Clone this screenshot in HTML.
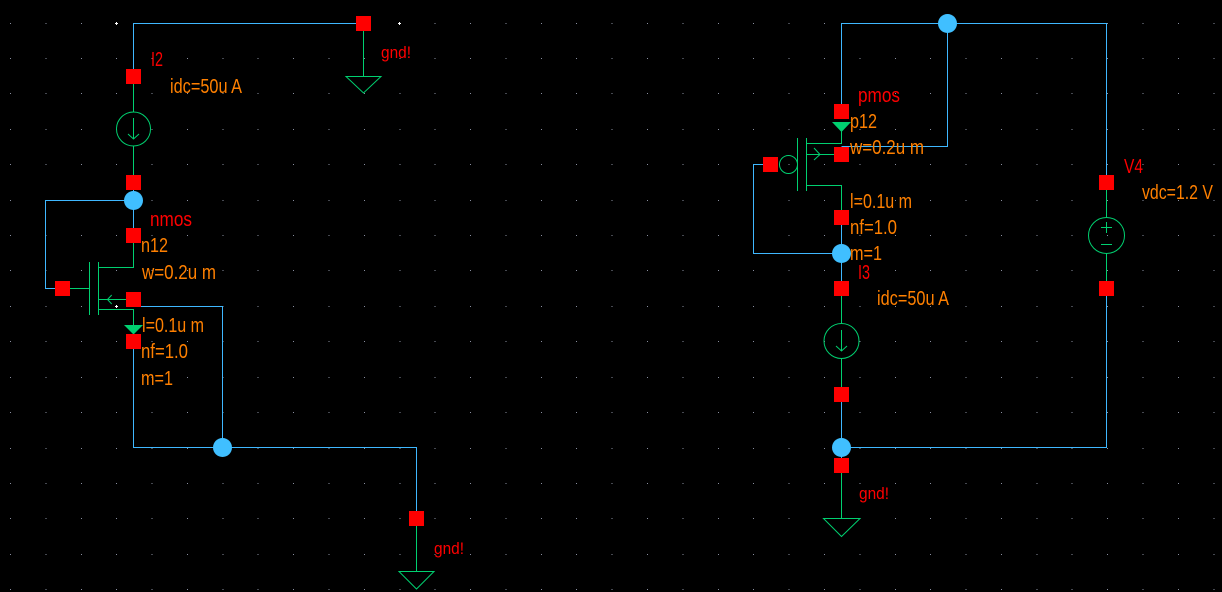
<!DOCTYPE html>
<html>
<head>
<meta charset="utf-8">
<title>Schematic</title>
<style>
html,body{margin:0;padding:0;background:#000;width:1222px;height:592px;overflow:hidden}
svg{display:block}
text{font-family:"Liberation Sans",sans-serif;font-size:20px;font-weight:400}
text.s{font-size:17px}
.r{fill:#f00}
.o{fill:#ff8000}
.w{fill:none;stroke:#3fb8ff;stroke-width:1;shape-rendering:crispEdges}
.g{fill:none;stroke:#00d070;stroke-width:1}
.gc{shape-rendering:crispEdges}
.grid{fill:none;stroke:#8a8fa0;stroke-width:1;stroke-dasharray:1 34.39;shape-rendering:crispEdges}
</style>
</head>
<body>
<svg width="1222" height="592" viewBox="0 0 1222 592" xmlns="http://www.w3.org/2000/svg">
<rect width="1222" height="592" fill="#000"/>
<!-- grid -->
<g class="grid">
<path d="M10 23.5H1222"/><path d="M10 58.5H1222"/><path d="M10 93.5H1222"/><path d="M10 129.5H1222"/>
<path d="M10 164.5H1222"/><path d="M10 200.5H1222"/><path d="M10 235.5H1222"/><path d="M10 270.5H1222"/>
<path d="M10 306.5H1222"/><path d="M10 341.5H1222"/><path d="M10 377.5H1222"/><path d="M10 412.5H1222"/>
<path d="M10 448.5H1222"/><path d="M10 483.5H1222"/><path d="M10 518.5H1222"/><path d="M10 554.5H1222"/>
<path d="M10 589.5H1222"/>
</g>
<!-- white origin marks -->
<path d="M115 23.5h3M116.5 22v3M398 23.5h3M399.5 22v3M115 306.5h3M116.5 305v3" stroke="#fff" fill="none" shape-rendering="crispEdges"/>

<!-- LEFT wires -->
<path class="w" d="M133.5 76V23.5H363"/>
<path class="w" d="M133.5 182V243"/>
<path class="w" d="M133.5 200.5H45.5V288.5H62"/>
<path class="w" d="M133.5 342V447.5H416.5V518"/>
<path class="w" d="M134 306.5H222.5V447.5"/>

<!-- LEFT green -->
<g class="g gc">
<path d="M133.5 84V112M133.5 146V175"/>
<path d="M363.5 31V76.5"/>
<path d="M133.5 243V267.5H98.5"/>
<path d="M70 288.5H89.5"/>
<path d="M89.5 262V315M98.5 262V315"/>
<path d="M98.5 299.5H126"/>
<path d="M98.5 309.5H133.5V325"/>
<path d="M416.5 526V571.5"/>
<path d="M133.5 118V139"/>
</g>
<g class="g">
<circle cx="133.5" cy="129" r="17"/>
<path d="M128 134L133.5 139L139 134"/>
<path d="M346 76.5H381L363.5 93Z"/>
<path d="M399 571.5H434L416.5 589Z"/>
<path d="M111.7 295L107.5 299.5L111.7 304"/>
</g>
<path d="M124 325H143L133.5 334.5Z" fill="#00d070"/>

<!-- RIGHT wires -->
<path class="w" d="M841.5 111V23.5H1106.5V182"/>
<path class="w" d="M947.5 23.5V146.5H841.5"/>
<path class="w" d="M841.5 217V288"/>
<path class="w" d="M841.5 253.5H753.5V164.5H770"/>
<path class="w" d="M841.5 394V465"/>
<path class="w" d="M841.5 447.5H1106.5V288"/>

<!-- RIGHT green -->
<g class="g gc">
<path d="M841.5 131V143.5H806.5"/>
<path d="M797.5 138V191M806.5 138V191"/>
<path d="M806.5 154.5H834"/>
<path d="M806.5 185.5H841.5V210"/>
<path d="M841.5 296V323M841.5 359V387"/>
<path d="M841.5 330V351"/>
<path d="M841.5 473V518.5"/>
<path d="M1106.5 190V217M1106.5 253V281"/>
<path d="M1101 227.5H1112M1106.5 222V233M1101 244.5H1112"/>
</g>
<g class="g">
<circle cx="788.5" cy="164.5" r="9"/>
<circle cx="841.5" cy="341" r="17.5"/>
<circle cx="1106.5" cy="235.5" r="18"/>
<path d="M836 346L841.5 351L847 346"/>
<path d="M814 148L820 154.5L814 160"/>
<path d="M823.5 518.5H860L841.5 536.5Z"/>
</g>
<path d="M832 122H851L841.5 132Z" fill="#00d070"/>

<!-- blue dots -->
<g fill="#40bfff">
<circle cx="133.5" cy="200.5" r="9.5"/>
<circle cx="222.5" cy="447.5" r="9.5"/>
<circle cx="947.5" cy="23.5" r="9.5"/>
<circle cx="841.5" cy="253.5" r="9.5"/>
<circle cx="841.5" cy="447.5" r="9.5"/>
</g>

<!-- red pins -->
<g fill="#f00">
<rect x="356" y="16" width="15" height="15"/>
<rect x="126" y="69" width="15" height="15"/>
<rect x="126" y="175" width="15" height="15"/>
<rect x="126" y="228" width="15" height="15"/>
<rect x="55" y="281" width="15" height="15"/>
<rect x="126" y="292" width="15" height="15"/>
<rect x="126" y="334" width="15" height="15"/>
<rect x="409" y="511" width="15" height="15"/>
<rect x="834" y="104" width="15" height="15"/>
<rect x="834" y="147" width="15" height="15"/>
<rect x="763" y="157" width="15" height="15"/>
<rect x="834" y="210" width="15" height="15"/>
<rect x="834" y="281" width="15" height="15"/>
<rect x="834" y="387" width="15" height="15"/>
<rect x="834" y="458" width="15" height="15"/>
<rect x="1099" y="175" width="15" height="15"/>
<rect x="1099" y="281" width="15" height="15"/>
</g>

<!-- labels -->
<text class="r" x="151" y="66" textLength="12" lengthAdjust="spacingAndGlyphs">I2</text>
<text class="o" x="170" y="93" textLength="72" lengthAdjust="spacingAndGlyphs">idc=50u A</text>
<text class="r s" x="381" y="58" textLength="30" lengthAdjust="spacingAndGlyphs">gnd!</text>
<text class="r" x="150" y="226" textLength="42" lengthAdjust="spacingAndGlyphs">nmos</text>
<text class="o" x="141" y="252" textLength="27" lengthAdjust="spacingAndGlyphs">n12</text>
<text class="o" x="142" y="279" textLength="74" lengthAdjust="spacingAndGlyphs">w=0.2u m</text>
<text class="o" x="142" y="332" textLength="62" lengthAdjust="spacingAndGlyphs">l=0.1u m</text>
<text class="o" x="141" y="358" textLength="47" lengthAdjust="spacingAndGlyphs">nf=1.0</text>
<text class="o" x="141" y="385" textLength="32" lengthAdjust="spacingAndGlyphs">m=1</text>
<text class="r s" x="434" y="554" textLength="30" lengthAdjust="spacingAndGlyphs">gnd!</text>

<text class="r" x="858" y="102" textLength="42" lengthAdjust="spacingAndGlyphs">pmos</text>
<text class="o" x="850" y="128" textLength="27" lengthAdjust="spacingAndGlyphs">p12</text>
<text class="o" x="850" y="154" textLength="74" lengthAdjust="spacingAndGlyphs">w=0.2u m</text>
<text class="o" x="850" y="208" textLength="62" lengthAdjust="spacingAndGlyphs">l=0.1u m</text>
<text class="o" x="850" y="234" textLength="47" lengthAdjust="spacingAndGlyphs">nf=1.0</text>
<text class="o" x="850" y="260" textLength="32" lengthAdjust="spacingAndGlyphs">m=1</text>
<text class="r" x="858" y="279" textLength="12" lengthAdjust="spacingAndGlyphs">I3</text>
<text class="o" x="877" y="305" textLength="72" lengthAdjust="spacingAndGlyphs">idc=50u A</text>
<text class="r s" x="859" y="499" textLength="30" lengthAdjust="spacingAndGlyphs">gnd!</text>
<text class="r" x="1124" y="173" textLength="19" lengthAdjust="spacingAndGlyphs">V4</text>
<text class="o" x="1142" y="199" textLength="71" lengthAdjust="spacingAndGlyphs">vdc=1.2 V</text>
</svg>
</body>
</html>
